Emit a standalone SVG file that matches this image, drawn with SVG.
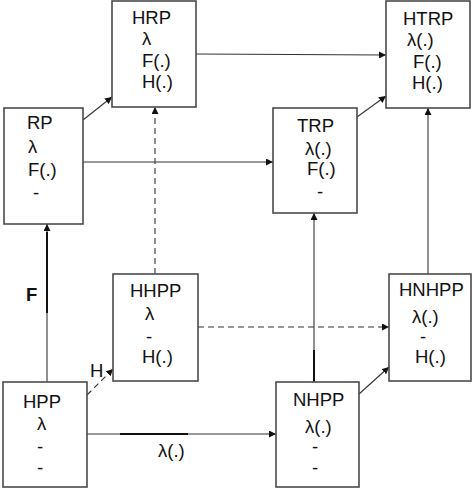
<svg xmlns="http://www.w3.org/2000/svg" width="474" height="489" viewBox="0 0 474 489">
<defs>
<marker id="ah" viewBox="0 0 10 10" refX="10" refY="5" markerWidth="7" markerHeight="7" markerUnits="userSpaceOnUse" orient="auto"><path d="M0,0 L10,5 L0,10 z" fill="#111"/></marker>
<style>
.box{fill:#fff;stroke:#4a4a4a;stroke-width:1.6}
text{font-family:"Liberation Sans",Arial,sans-serif;font-size:18.5px;fill:#111}
.c{fill:none;stroke:#333;stroke-width:1.1}
.d{stroke-dasharray:6 4}
.t{fill:none;stroke:#111;stroke-width:2}
</style>
</defs>
<rect width="474" height="489" fill="#fff"/>
<g id="connectors">
<line class="c" x1="47" y1="382" x2="47" y2="224" marker-end="url(#ah)"/>
<line class="t" x1="47" y1="232" x2="47" y2="313"/>
<line class="c d" x1="87" y1="395" x2="113" y2="369" marker-end="url(#ah)"/>
<line class="c" x1="87" y1="434" x2="276" y2="434" marker-end="url(#ah)"/>
<line class="t" x1="120" y1="434" x2="188" y2="434"/>
<line class="c" x1="314" y1="382" x2="314" y2="213" marker-end="url(#ah)"/>
<line class="t" x1="314" y1="350" x2="314" y2="382"/>
<line class="c" x1="359" y1="394" x2="389" y2="367" marker-end="url(#ah)"/>
<line class="c d" x1="198" y1="327" x2="389" y2="327" marker-end="url(#ah)"/>
<line class="c d" x1="155" y1="274" x2="155" y2="107" marker-end="url(#ah)"/>
<line class="c" x1="428" y1="274" x2="428" y2="108" marker-end="url(#ah)"/>
<line class="c" x1="83" y1="120" x2="112" y2="97" marker-end="url(#ah)"/>
<line class="c" x1="83" y1="162" x2="273" y2="162" marker-end="url(#ah)"/>
<line class="c" x1="196" y1="54" x2="386" y2="55" marker-end="url(#ah)"/>
<line class="c" x1="357" y1="117" x2="386" y2="96" marker-end="url(#ah)"/>
<text x="26" y="301" style="font-weight:bold">F</text>
<text x="90" y="377">H</text>
<text x="158" y="457">λ(.)</text>
</g>
<g id="HRP">
<rect class="box" x="112" y="1" width="84" height="106"/>
<text x="132" y="24">HRP</text>
<text x="142" y="45">λ</text>
<text x="142" y="67">F(.)</text>
<text x="142" y="88">H(.)</text>
</g>
<g id="HTRP">
<rect class="box" x="386" y="1" width="84" height="107"/>
<text x="403" y="25">HTRP</text>
<text x="407" y="46">λ(.)</text>
<text x="413" y="68">F(.)</text>
<text x="412" y="89">H(.)</text>
</g>
<g id="RP">
<rect class="box" x="4" y="108" width="79" height="116"/>
<text x="27" y="129">RP</text>
<text x="28" y="153">λ</text>
<text x="28" y="176">F(.)</text>
<text x="33" y="199">-</text>
</g>
<g id="TRP">
<rect class="box" x="273" y="108" width="84" height="105"/>
<text x="297" y="132">TRP</text>
<text x="305" y="155">λ(.)</text>
<text x="307" y="175">F(.)</text>
<text x="317" y="198">-</text>
</g>
<g id="HHPP">
<rect class="box" x="113" y="274" width="85" height="107"/>
<text x="130" y="297">HHPP</text>
<text x="145" y="320">λ</text>
<text x="146" y="343">-</text>
<text x="142" y="363">H(.)</text>
</g>
<g id="HNHPP">
<rect class="box" x="389" y="274" width="82" height="107"/>
<text x="399" y="296">HNHPP</text>
<text x="412" y="323">λ(.)</text>
<text x="420" y="343">-</text>
<text x="415" y="363">H(.)</text>
</g>
<g id="HPP">
<rect class="box" x="3" y="382" width="84" height="105"/>
<text x="23" y="408">HPP</text>
<text x="37" y="430">λ</text>
<text x="37" y="453">-</text>
<text x="37" y="474">-</text>
</g>
<g id="NHPP">
<rect class="box" x="276" y="382" width="83" height="105"/>
<text x="293" y="406">NHPP</text>
<text x="305" y="433">λ(.)</text>
<text x="312" y="453">-</text>
<text x="312" y="474">-</text>
</g>
</svg>
